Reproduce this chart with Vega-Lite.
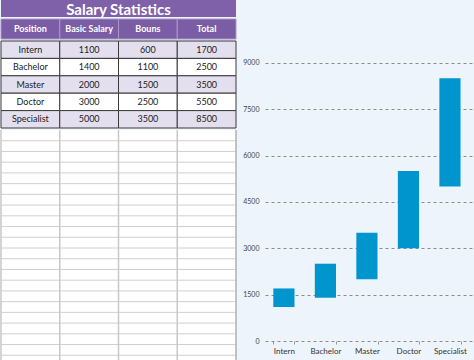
{
  "$schema": "https://vega.github.io/schema/vega-lite/v6.json",
  "background": "#EEF4FB",
  "padding": {"left": 0, "top": 0, "right": 4, "bottom": 0},
  "config": {"view": {"stroke": null}, "font": "Lato"},
  "datasets": {
    "salary": [
      {"Position": "Intern", "Basic Salary": 1100, "Bouns": 600, "Total": 1700},
      {"Position": "Bachelor", "Basic Salary": 1400, "Bouns": 1100, "Total": 2500},
      {"Position": "Master", "Basic Salary": 2000, "Bouns": 1500, "Total": 3500},
      {"Position": "Doctor", "Basic Salary": 3000, "Bouns": 2500, "Total": 5500},
      {"Position": "Specialist", "Basic Salary": 5000, "Bouns": 3500, "Total": 8500}
    ]
  },
  "spacing": 5,
  "hconcat": [
    {
      "spacing": 0,
      "vconcat": [
        {
          "width": 235,
          "height": 17,
          "view": {"fill": "#7E61A8", "stroke": null},
          "data": {"values": [{"t": "Salary Statistics"}]},
          "mark": {"type": "text", "color": "white", "fontSize": 15, "fontWeight": "bold", "font": "Lato", "dy": 1},
          "encoding": {"text": {"field": "t"}}
        },
        {
          "width": 235,
          "height": 20,
          "data": {"values": [{"col": "Position"}, {"col": "Basic Salary"}, {"col": "Bouns"}, {"col": "Total"}]},
          "layer": [
            {
              "mark": {"type": "rect", "fill": "#7B5DA6", "stroke": "#A896C6", "strokeWidth": 1},
              "encoding": {
                "x": {"field": "col", "type": "nominal", "sort": null, "scale": {"paddingInner": 0, "paddingOuter": 0}, "axis": null}
              }
            },
            {
              "mark": {"type": "text", "color": "white", "fontWeight": "bold", "fontSize": 9},
              "encoding": {
                "x": {"field": "col", "type": "nominal", "sort": null, "scale": {"paddingInner": 0, "paddingOuter": 0}, "axis": null},
                "text": {"field": "col"}
              }
            }
          ]
        },
        {
          "width": 235,
          "height": 87,
          "data": {"name": "salary"},
          "transform": [{"fold": ["Position", "Basic Salary", "Bouns", "Total"], "as": ["col", "val"]}],
          "layer": [
            {
              "mark": {"type": "rect", "stroke": "#3a3a3a", "strokeWidth": 1},
              "encoding": {
                "x": {"field": "col", "type": "nominal", "sort": null, "scale": {"paddingInner": 0, "paddingOuter": 0}, "axis": null},
                "y": {"field": "Position", "type": "nominal", "sort": null, "scale": {"paddingInner": 0, "paddingOuter": 0}, "axis": null},
                "fill": {
                  "field": "Position", "type": "nominal", "legend": null,
                  "scale": {"domain": ["Intern", "Bachelor", "Master", "Doctor", "Specialist"], "range": ["#E4DFEE", "#FFFFFF", "#E4DFEE", "#FFFFFF", "#E4DFEE"]}
                }
              }
            },
            {
              "mark": {"type": "text", "fontSize": 9, "color": "#222222"},
              "encoding": {
                "x": {"field": "col", "type": "nominal", "sort": null, "scale": {"paddingInner": 0, "paddingOuter": 0}, "axis": null},
                "y": {"field": "Position", "type": "nominal", "sort": null, "scale": {"paddingInner": 0, "paddingOuter": 0}, "axis": null},
                "text": {"field": "val", "type": "nominal"}
              }
            }
          ]
        },
        {
          "width": 235,
          "height": 236,
          "view": {"fill": "white", "stroke": null},
          "layer": [
            {
              "data": {"values": [{"r": 1}, {"r": 2}, {"r": 3}, {"r": 4}, {"r": 5}, {"r": 6}, {"r": 7}, {"r": 8}, {"r": 9}, {"r": 10}, {"r": 11}, {"r": 12}, {"r": 13}, {"r": 14}, {"r": 15}, {"r": 16}, {"r": 17}, {"r": 18}, {"r": 19}, {"r": 20}, {"r": 21}, {"r": 22}]},
              "mark": {"type": "rule", "color": "#D0D0D0", "strokeWidth": 1},
              "encoding": {
                "y": {"field": "r", "type": "ordinal", "bandPosition": 1, "scale": {"paddingInner": 0, "paddingOuter": 0}, "axis": null}
              }
            },
            {
              "data": {"values": [{"col": "Position"}, {"col": "Basic Salary"}, {"col": "Bouns"}, {"col": "Total"}]},
              "mark": {"type": "rule", "color": "#C8C8C8", "strokeWidth": 1.5},
              "encoding": {
                "x": {"field": "col", "type": "nominal", "sort": null, "bandPosition": 0, "scale": {"paddingInner": 0, "paddingOuter": 0}, "axis": null}
              }
            },
            {
              "data": {"values": [{"col": "Total"}]},
              "mark": {"type": "rule", "color": "#B0B0B0", "strokeWidth": 1.5},
              "encoding": {
                "x": {"field": "col", "type": "nominal", "bandPosition": 1, "scale": {"domain": ["Position", "Basic Salary", "Bouns", "Total"], "paddingInner": 0, "paddingOuter": 0}, "axis": null}
              }
            }
          ]
        }
      ]
    },
    {
      "width": 208,
      "height": 341,
      "data": {"name": "salary"},
      "mark": {"type": "bar", "color": "#0096CD"},
      "encoding": {
        "x": {
          "field": "Position", "type": "nominal", "sort": null,
          "scale": {"paddingInner": 0.49, "paddingOuter": 0.25, "align": 0.4},
          "axis": {
            "title": null, "labelAngle": 0, "labelFontSize": 8, "labelColor": "#333333", "labelFont": "Lato",
            "domain": false, "tickBand": "extent", "tickColor": "#999999", "tickSize": 3, "labelPadding": 3
          }
        },
        "y": {
          "field": "Basic Salary", "type": "quantitative",
          "scale": {"domain": [0, 11030], "nice": false, "zero": true},
          "axis": {
            "title": null, "values": [0, 1500, 3000, 4500, 6000, 7500, 9000], "format": "d",
            "grid": true, "gridDash": [3, 3], "gridColor": "#8C8C8C", "gridWidth": 1,
            "domain": false, "ticks": false, "labelFontSize": 7, "labelColor": "#444444", "labelPadding": 6, "labelFont": "Lato"
          }
        },
        "y2": {"field": "Total"}
      }
    }
  ]
}
